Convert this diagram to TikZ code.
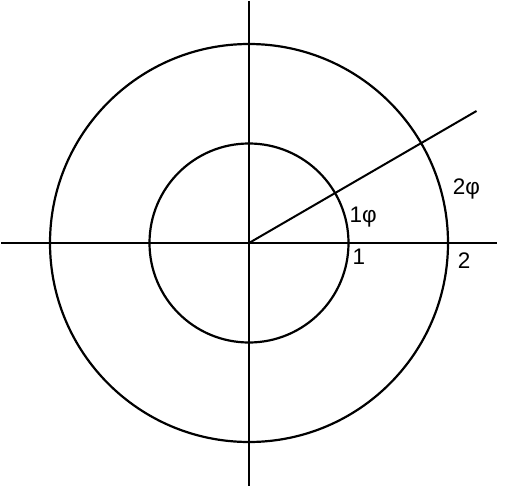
\documentclass[tikz,border=0pt]{standalone}
\usepackage{fontspec}
\setmainfont{Liberation Sans}
\begin{document}
\begin{tikzpicture}[x=1pt,y=-1pt,
  axis/.style={line width=2pt,black},
  ring/.style={line width=2.2pt,black},
  lbl/.style={inner sep=0pt,anchor=base west,font=\fontsize{22.5}{24}\selectfont}]
\useasboundingbox (0,0) rectangle (511,487);
\coordinate (O) at (249,243);
\coordinate (L) at (1,243);
\coordinate (R) at (497,243);
\coordinate (T) at (249,1);
\coordinate (B) at (249,486);
\coordinate (E) at (476.5,111);
\draw[axis] (L) -- (R);
\draw[axis] (T) -- (B);
\draw[ring] (O) circle[radius=99.5];
\draw[ring] (O) circle[radius=199];
\draw[axis] (O) -- (E);
\node[lbl] (p1) at (349.3,222.7) {1φ};
\node[lbl] (p2) at (452.6,194) {2φ};
\node[lbl] (n1) at (352.5,264) {1};
\node[lbl] (n2) at (457.6,268.3) {2};
\end{tikzpicture}
\end{document}
